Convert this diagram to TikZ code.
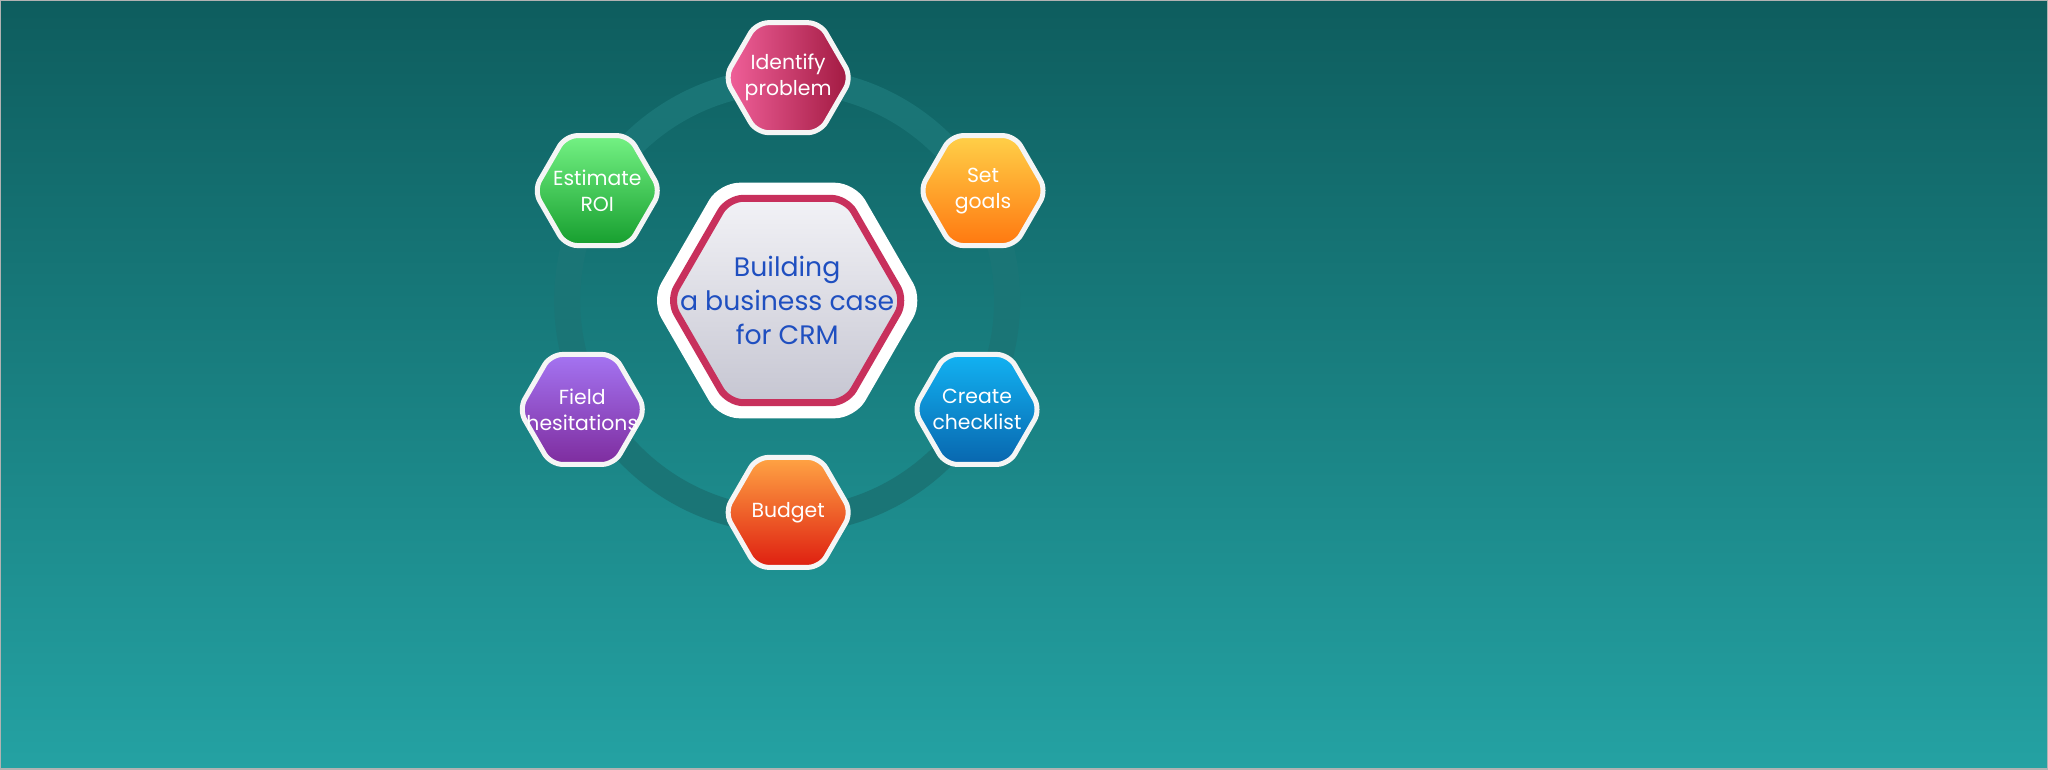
\documentclass[tikz,border=0pt]{standalone}
\usepackage{fontspec}
\setmainfont{Poppins}
\usetikzlibrary{shapes.geometric}
\definecolor{bgtop}{HTML}{0E5D5E}
\definecolor{bgbot}{HTML}{24A2A3}
\definecolor{ringc}{HTML}{1A7576}
\definecolor{crimson}{HTML}{C8305C}
\definecolor{titleblue}{HTML}{1F4FC0}
\definecolor{hubtop}{HTML}{F2F2F6}
\definecolor{hubbot}{HTML}{C6C6D2}
\definecolor{pinkl}{HTML}{F2629C}
\definecolor{pinkr}{HTML}{A0183F}
\definecolor{yellowt}{HTML}{FFD048}
\definecolor{orangeb}{HTML}{FF7810}
\definecolor{bluet}{HTML}{12B2F2}
\definecolor{blueb}{HTML}{0866AE}
\definecolor{budgett}{HTML}{FFA444}
\definecolor{budgetb}{HTML}{DE1E10}
\definecolor{purplet}{HTML}{A474F2}
\definecolor{purpleb}{HTML}{7E2C9E}
\definecolor{greent}{HTML}{74F284}
\definecolor{greenb}{HTML}{169E2E}
\begin{document}
\begin{tikzpicture}[
    x=0.01cm, y=-0.01cm,
    every node/.style={font=\fontsize{5.8}{7.4}\selectfont, text=white, align=center},
    hexbox/.style={regular polygon, regular polygon sides=6, minimum size=1.27cm,
                   draw=white!92!gray, line width=0.05cm, rounded corners=0.12cm, inner sep=0pt},
    bigwhite/.style={regular polygon, regular polygon sides=6, minimum size=2.72cm,
                   fill=white, rounded corners=0.2cm, inner sep=0pt},
    biginner/.style={regular polygon, regular polygon sides=6, minimum size=2.36cm,
                   draw=crimson, line width=0.07cm, rounded corners=0.15cm,
                   top color=hubtop, bottom color=hubbot, inner sep=0pt}
]
    % background
    \shade[top color=bgtop, bottom color=bgbot] (0,0) rectangle (2048,769);
    \draw[gray!60] (0,0) rectangle (2048,769);
    \useasboundingbox (0,0) rectangle (2048,769);
    % ring
    \node[circle, draw=ringc, line width=0.26cm, minimum size=4.4cm] (ring) at (787,300) {};

    % centre
    \node[bigwhite] (hub) at (787,300) {};
    \node[biginner] (hubin) at (787,300) {};
    \node[text=titleblue, font=\fontsize{7.6}{9.6}\selectfont] (title) at (hubin)
        {Building\\a business case\\for CRM};

    % steps
    \node[hexbox, left color=pinkl, right color=pinkr] (identify) at (788,77) {};
    \node (identifytxt) at (identify) {Identify\\problem};
    \node[hexbox, top color=yellowt, bottom color=orangeb] (goals) at (983,190) {};
    \node (goalstxt) at (goals) {Set\\goals};
    \node[hexbox, top color=bluet, bottom color=blueb] (checklist) at (977,409) {};
    \node (checklisttxt) at (checklist) {Create\\checklist};
    \node[hexbox, top color=budgett, bottom color=budgetb] (budget) at (788,512) {};
    \node (budgettxt) at (budget) {Budget};
    \node[hexbox, top color=purplet, bottom color=purpleb] (field) at (582,409) {};
    \node (fieldtxt) at (field) {Field\\hesitations};
    \node[hexbox, top color=greent, bottom color=greenb] (roi) at (597,190) {};
    \node (roitxt) at (roi) {Estimate\\ROI};
\end{tikzpicture}
\end{document}
